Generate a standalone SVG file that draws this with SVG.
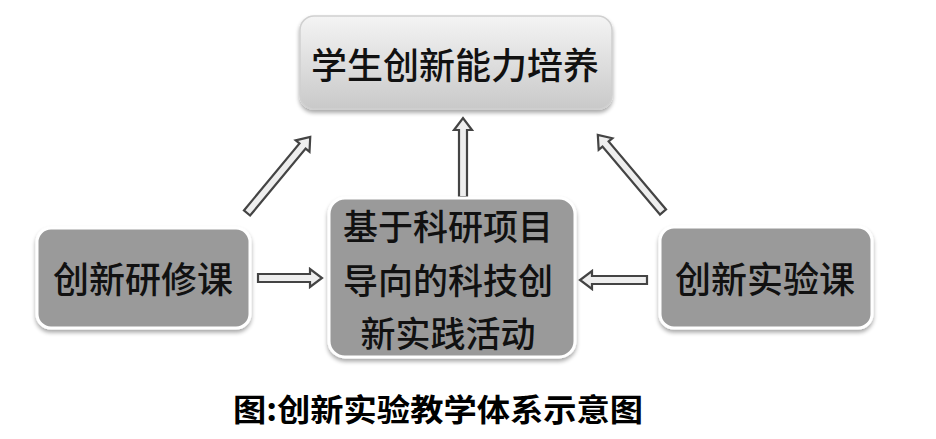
<svg xmlns="http://www.w3.org/2000/svg" width="936" height="439" viewBox="0 0 936 439">
<defs>
<linearGradient id="gTop" x1="0" y1="0" x2="0" y2="1">
<stop offset="0" stop-color="#f4f4f4"/>
<stop offset="1" stop-color="#c9c9c9"/>
</linearGradient>
<filter id="sh" x="-10%" y="-10%" width="120%" height="130%">
<feGaussianBlur in="SourceAlpha" stdDeviation="2"/>
<feOffset dx="0" dy="3" result="b"/>
<feComponentTransfer><feFuncA type="linear" slope="0.35"/></feComponentTransfer>
<feMerge><feMergeNode/><feMergeNode in="SourceGraphic"/></feMerge>
</filter>
</defs>
<style>
.box{fill:#9a9a9a;stroke:#ffffff;stroke-width:3;filter:url(#sh)}
.top{fill:url(#gTop);stroke:#d0d0d0;stroke-width:1.5;filter:url(#sh)}
.t{font-family:"Noto Sans CJK SC","Noto Sans CJK TC",sans-serif;font-weight:500;fill:#111;text-anchor:middle}
.arr{fill:#eeeeee;stroke:#444;stroke-width:2.2;stroke-linejoin:miter}
.cap{font-family:"Noto Sans CJK SC",sans-serif;font-weight:bold;fill:#000;text-anchor:middle}
</style>
<rect width="936" height="439" fill="#ffffff"/>
<g id="connectors">
<path class="arr" d="M258,274 L310,274 L310,269 L322,278 L310,287 L310,282 L258,282 Z"/>
<path class="arr" d="M647,276 L592,276 L592,271 L580,280 L592,289 L592,284 L647,284 Z"/>
<path class="arr" d="M459,197 L459,130 L454,130 L463,118 L472,130 L467,130 L467,197 Z"/>
<path class="arr" transform="translate(247,213) rotate(-50.3)" d="M0,-4 L87,-4 L87,-9 L99,0 L87,9 L87,4 L0,4 Z"/>
<path class="arr" transform="translate(663,212) rotate(-130.2)" d="M0,-4 L89,-4 L89,-9 L101,0 L89,9 L89,4 L0,4 Z"/>
</g>
<g id="node-top">
<rect class="top" x="300" y="16" width="312" height="93" rx="14"/>
<text class="t" x="455" y="79" font-size="36">学生创新能力培养</text>
</g>
<g id="node-left">
<rect class="box" x="37" y="228" width="213" height="100" rx="14"/>
<text class="t" x="143" y="293" font-size="36">创新研修课</text>
</g>
<g id="node-center">
<rect class="box" x="329" y="198" width="246" height="159" rx="16"/>
<text class="t" x="448" y="240" font-size="35">基于科研项目</text>
<text class="t" x="448" y="294" font-size="35">导向的科技创</text>
<text class="t" x="448" y="347" font-size="35">新实践活动</text>
</g>
<g id="node-right">
<rect class="box" x="660" y="227" width="212" height="101" rx="14"/>
<text class="t" x="765" y="293" font-size="36">创新实验课</text>
</g>
<text class="cap" x="438" y="421" font-size="31" textLength="410" lengthAdjust="spacingAndGlyphs">图:创新实验教学体系示意图</text>
</svg>
